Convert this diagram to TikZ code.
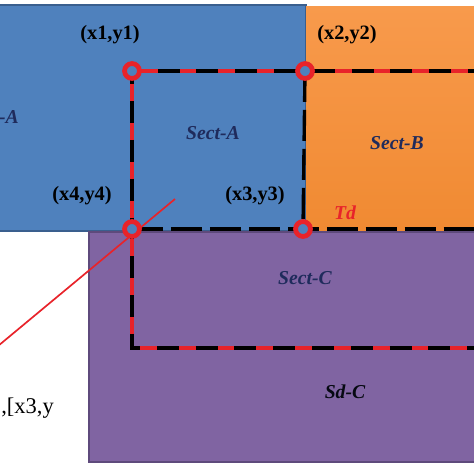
\documentclass[tikz,border=0pt]{standalone}
\usepackage{fontspec}
\setmainfont{Liberation Serif}
\definecolor{sdblue}{HTML}{4F81BD}
\definecolor{sdblueedge}{HTML}{3A5F8E}
\definecolor{sdorangetop}{HTML}{F89A4C}
\definecolor{sdorangebot}{HTML}{F08A32}
\definecolor{sdpurple}{HTML}{8064A2}
\definecolor{sdpurpleedge}{HTML}{5E4A7C}
\definecolor{sectink}{HTML}{1F2B5C}
\definecolor{markred}{HTML}{E8232A}
\begin{document}
\begin{tikzpicture}[x=0.025cm,y=-0.025cm,
    coordtext/.style={font=\fontsize{14.5}{16}\selectfont\bfseries},
    secttext/.style={font=\fontsize{14}{16}\selectfont\bfseries\itshape,text=sectink},
    redline/.style={markred,line width=2.8pt},
    blackdash/.style={black,line width=2.8pt,dash pattern=on 15.6pt off 12pt},
    innerdash/.style={black,line width=2.4pt,dash pattern=on 22pt off 5.7pt}]
    \useasboundingbox (0,0) rectangle (474,474);
    \clip (0,0) rectangle (474,474);
    \fill[white] (0,0) rectangle (474,474);
    % regions
    \draw[sdblueedge,line width=2pt,fill=sdblue](-20,5) rectangle (306,231);
    \shade[top color=sdorangetop,bottom color=sdorangebot](306,6) rectangle (490,230);
    \draw[sdpurpleedge,line width=2pt,fill=sdpurple](89,232) rectangle (490,462);
    % corners of Sect-A
    \coordinate (c1) at (132,71);
    \coordinate (c2) at (305,71);
    \coordinate (c3) at (303,229);
    \coordinate (c4) at (132,229);
    \coordinate (e1) at (490,71);
    \coordinate (e2) at (490,229);
    \coordinate (b1) at (132,348);
    \coordinate (b2) at (490,348);
    % outer red/black border
    \draw[redline](e1)--(c1)--(b1)--(b2);
    \draw[blackdash](e1)--(c1)--(b1)--(b2);
    \draw[innerdash](c2)--(c3);
    \draw[innerdash](c4)--(e2);
    % red pointer
    \coordinate (p1) at (175,199);
    \coordinate (p2) at (-2,346);
    \draw[markred,line width=1.2pt](p1)--(p2);
    \foreach \p in {c1,c2,c3,c4}
    {
        \draw[markred,line width=3.4pt,fill=sdblue](\p) circle (5.3pt);
    }
    % labels
    \node[coordtext] (l1) at (110,35){(x1,y1)};
    \node[coordtext] (l2) at (347,35){(x2,y2)};
    \node[coordtext] (l3) at (255,196){(x3,y3)};
    \node[coordtext] (l4) at (82,196){(x4,y4)};
    \node[secttext,anchor=east,inner sep=0pt] (sda) at (19,117){-A};
    \node[secttext] (sa) at (213,133){Sect-A};
    \node[secttext] (sb) at (397,143){Sect-B};
    \node[secttext,text=markred] (td) at (345,213){Td};
    \node[secttext] (sc) at (305,278){Sect-C};
    \node[secttext,text=black!80!sectink] (sdc) at (345,392){Sd-C};
    \node[font=\fontsize{16}{18}\selectfont,anchor=west,inner sep=0pt] (pt) at (1,408){,[x3,y};
\end{tikzpicture}
\end{document}
